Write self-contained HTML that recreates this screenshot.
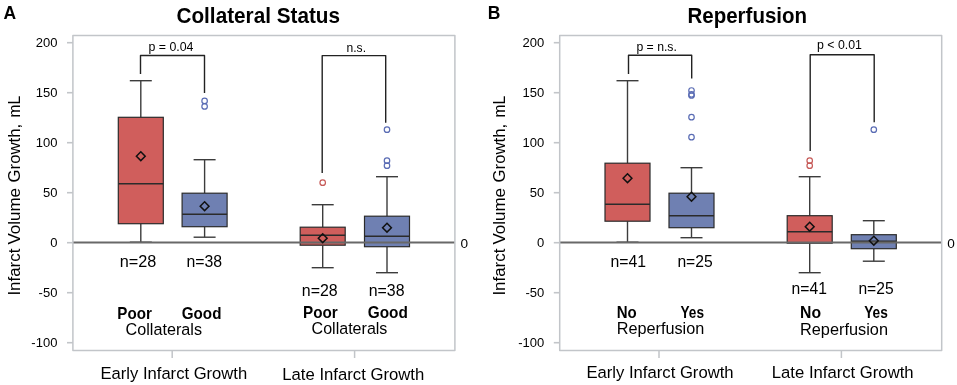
<!DOCTYPE html>
<html><head><meta charset="utf-8"><style>
html,body{margin:0;padding:0;background:#fff;}
svg{display:block;will-change:transform;}
text{font-family:"Liberation Sans", sans-serif;fill:#000;}
</style></head><body>
<svg width="957" height="385" viewBox="0 0 957 385">
<rect width="957" height="385" fill="#fff"/>
<line x1="140.8" y1="80.7" x2="140.8" y2="117.3" stroke="#3c3c3c" stroke-width="1.4"/>
<line x1="140.8" y1="223.7" x2="140.8" y2="242.2" stroke="#3c3c3c" stroke-width="1.4"/>
<line x1="129.8" y1="80.7" x2="151.8" y2="80.7" stroke="#3c3c3c" stroke-width="1.4"/>
<line x1="129.8" y1="242.2" x2="151.8" y2="242.2" stroke="#3c3c3c" stroke-width="1.4"/>
<rect x="118.3" y="117.3" width="45" height="106.4" fill="#d05e5c" stroke="#2b2b2b" stroke-width="1.2"/>
<line x1="118.3" y1="183.7" x2="163.3" y2="183.7" stroke="#2b2b2b" stroke-width="1.6"/>
<line x1="204.6" y1="159.7" x2="204.6" y2="193.2" stroke="#3c3c3c" stroke-width="1.4"/>
<line x1="204.6" y1="226.7" x2="204.6" y2="237.2" stroke="#3c3c3c" stroke-width="1.4"/>
<line x1="193.6" y1="159.7" x2="215.6" y2="159.7" stroke="#3c3c3c" stroke-width="1.4"/>
<line x1="193.6" y1="237.2" x2="215.6" y2="237.2" stroke="#3c3c3c" stroke-width="1.4"/>
<rect x="182.1" y="193.2" width="45" height="33.5" fill="#6f80b2" stroke="#2b2b2b" stroke-width="1.2"/>
<line x1="182.1" y1="214.2" x2="227.1" y2="214.2" stroke="#2b2b2b" stroke-width="1.6"/>
<line x1="322.7" y1="204.7" x2="322.7" y2="227.2" stroke="#3c3c3c" stroke-width="1.4"/>
<line x1="322.7" y1="245.2" x2="322.7" y2="267.7" stroke="#3c3c3c" stroke-width="1.4"/>
<line x1="311.7" y1="204.7" x2="333.7" y2="204.7" stroke="#3c3c3c" stroke-width="1.4"/>
<line x1="311.7" y1="267.7" x2="333.7" y2="267.7" stroke="#3c3c3c" stroke-width="1.4"/>
<rect x="300.2" y="227.2" width="45" height="18.0" fill="#d05e5c" stroke="#2b2b2b" stroke-width="1.2"/>
<line x1="300.2" y1="235.2" x2="345.2" y2="235.2" stroke="#2b2b2b" stroke-width="1.6"/>
<line x1="387" y1="176.7" x2="387" y2="216.2" stroke="#3c3c3c" stroke-width="1.4"/>
<line x1="387" y1="246.7" x2="387" y2="272.7" stroke="#3c3c3c" stroke-width="1.4"/>
<line x1="376.0" y1="176.7" x2="398.0" y2="176.7" stroke="#3c3c3c" stroke-width="1.4"/>
<line x1="376.0" y1="272.7" x2="398.0" y2="272.7" stroke="#3c3c3c" stroke-width="1.4"/>
<rect x="364.5" y="216.2" width="45" height="30.5" fill="#6f80b2" stroke="#2b2b2b" stroke-width="1.2"/>
<line x1="364.5" y1="236.2" x2="409.5" y2="236.2" stroke="#2b2b2b" stroke-width="1.6"/>
<line x1="72.9" y1="242.5" x2="454.9" y2="242.5" stroke="#686868" stroke-width="1.9"/>
<path d="M140.8 151.8L145.2 156.2L140.8 160.6L136.4 156.2Z" fill="none" stroke="#111" stroke-width="1.5"/>
<path d="M204.6 201.8L209.0 206.2L204.6 210.6L200.2 206.2Z" fill="none" stroke="#111" stroke-width="1.5"/>
<circle cx="204.6" cy="100.9" r="2.75" fill="none" stroke="#5a6cb4" stroke-width="1.2"/>
<circle cx="204.6" cy="106.4" r="2.75" fill="none" stroke="#5a6cb4" stroke-width="1.2"/>
<path d="M322.7 233.8L327.1 238.2L322.7 242.6L318.3 238.2Z" fill="none" stroke="#111" stroke-width="1.5"/>
<circle cx="322.7" cy="182.7" r="2.75" fill="none" stroke="#c65a58" stroke-width="1.2"/>
<path d="M387 223.3L391.4 227.7L387 232.1L382.6 227.7Z" fill="none" stroke="#111" stroke-width="1.5"/>
<circle cx="387" cy="129.7" r="2.75" fill="none" stroke="#5a6cb4" stroke-width="1.2"/>
<circle cx="387" cy="160.7" r="2.75" fill="none" stroke="#5a6cb4" stroke-width="1.2"/>
<circle cx="387" cy="165.7" r="2.75" fill="none" stroke="#5a6cb4" stroke-width="1.2"/>
<rect x="72.9" y="35.6" width="382.0" height="314.8" fill="none" stroke="#c2c5c9" stroke-width="1.5" stroke-linejoin="round"/>
<line x1="67" y1="42.7" x2="72.9" y2="42.7" stroke="#c2c5c9" stroke-width="1.6"/>
<text x="57.4" y="47.1" font-size="13" font-weight="normal" text-anchor="end">200</text>
<line x1="67" y1="92.7" x2="72.9" y2="92.7" stroke="#c2c5c9" stroke-width="1.6"/>
<text x="57.4" y="97.1" font-size="13" font-weight="normal" text-anchor="end">150</text>
<line x1="67" y1="142.7" x2="72.9" y2="142.7" stroke="#c2c5c9" stroke-width="1.6"/>
<text x="57.4" y="147.1" font-size="13" font-weight="normal" text-anchor="end">100</text>
<line x1="67" y1="192.7" x2="72.9" y2="192.7" stroke="#c2c5c9" stroke-width="1.6"/>
<text x="57.4" y="197.1" font-size="13" font-weight="normal" text-anchor="end">50</text>
<line x1="67" y1="242.7" x2="72.9" y2="242.7" stroke="#c2c5c9" stroke-width="1.6"/>
<text x="57.4" y="247.1" font-size="13" font-weight="normal" text-anchor="end">0</text>
<line x1="67" y1="292.7" x2="72.9" y2="292.7" stroke="#c2c5c9" stroke-width="1.6"/>
<text x="57.4" y="297.1" font-size="13" font-weight="normal" text-anchor="end">-50</text>
<line x1="67" y1="342.7" x2="72.9" y2="342.7" stroke="#c2c5c9" stroke-width="1.6"/>
<text x="57.4" y="347.1" font-size="13" font-weight="normal" text-anchor="end">-100</text>
<line x1="172.2" y1="350.4" x2="172.2" y2="358" stroke="#c2c5c9" stroke-width="1.5"/>
<line x1="354.6" y1="350.4" x2="354.6" y2="358" stroke="#c2c5c9" stroke-width="1.5"/>
<text x="460.5" y="247.7" font-size="13.6" font-weight="normal" text-anchor="start">0</text>
<path d="M140.5 74V55.5H204.5V93" fill="none" stroke="#222" stroke-width="1.4" stroke-linejoin="round"/>
<text x="148.5" y="51.3" font-size="13" font-weight="normal" text-anchor="start" textLength="45" lengthAdjust="spacingAndGlyphs">p = 0.04</text>
<path d="M322.2 173V55.6H385.7V122.8" fill="none" stroke="#222" stroke-width="1.4" stroke-linejoin="round"/>
<text x="346.5" y="51.6" font-size="13" font-weight="normal" text-anchor="start" textLength="19.5" lengthAdjust="spacingAndGlyphs">n.s.</text>
<text x="3.5" y="19" font-size="17.5" font-weight="bold" text-anchor="start">A</text>
<text x="176.5" y="23.4" font-size="21.5" font-weight="bold" text-anchor="start" textLength="163.5" lengthAdjust="spacingAndGlyphs">Collateral Status</text>
<text x="119.8" y="266.7" font-size="16.3" font-weight="normal" text-anchor="start" textLength="36.6" lengthAdjust="spacingAndGlyphs">n=28</text>
<text x="186.5" y="266.7" font-size="16.3" font-weight="normal" text-anchor="start" textLength="35.7" lengthAdjust="spacingAndGlyphs">n=38</text>
<text x="117.3" y="319.0" font-size="16.3" font-weight="bold" text-anchor="start" textLength="34.5" lengthAdjust="spacingAndGlyphs">Poor</text>
<text x="181.8" y="319.0" font-size="16.3" font-weight="bold" text-anchor="start" textLength="39.6" lengthAdjust="spacingAndGlyphs">Good</text>
<text x="125.6" y="335.0" font-size="16.3" font-weight="normal" text-anchor="start" textLength="76.4" lengthAdjust="spacingAndGlyphs">Collaterals</text>
<text x="301.8" y="295.7" font-size="16.3" font-weight="normal" text-anchor="start" textLength="35.9" lengthAdjust="spacingAndGlyphs">n=28</text>
<text x="368.7" y="295.7" font-size="16.3" font-weight="normal" text-anchor="start" textLength="35.8" lengthAdjust="spacingAndGlyphs">n=38</text>
<text x="303" y="317.9" font-size="16.3" font-weight="bold" text-anchor="start" textLength="34.7" lengthAdjust="spacingAndGlyphs">Poor</text>
<text x="367.7" y="317.9" font-size="16.3" font-weight="bold" text-anchor="start" textLength="40.1" lengthAdjust="spacingAndGlyphs">Good</text>
<text x="311.6" y="334.3" font-size="16.3" font-weight="normal" text-anchor="start" textLength="75.8" lengthAdjust="spacingAndGlyphs">Collaterals</text>
<text x="100.5" y="379.1" font-size="16.3" font-weight="normal" text-anchor="start" textLength="146.7" lengthAdjust="spacingAndGlyphs">Early Infarct Growth</text>
<text x="282.3" y="380.1" font-size="16.3" font-weight="normal" text-anchor="start" textLength="142" lengthAdjust="spacingAndGlyphs">Late Infarct Growth</text>
<line x1="627.5" y1="80.7" x2="627.5" y2="163.2" stroke="#3c3c3c" stroke-width="1.4"/>
<line x1="627.5" y1="221.2" x2="627.5" y2="242.2" stroke="#3c3c3c" stroke-width="1.4"/>
<line x1="616.5" y1="80.7" x2="638.5" y2="80.7" stroke="#3c3c3c" stroke-width="1.4"/>
<line x1="616.5" y1="242.2" x2="638.5" y2="242.2" stroke="#3c3c3c" stroke-width="1.4"/>
<rect x="605.0" y="163.2" width="45" height="58.0" fill="#d05e5c" stroke="#2b2b2b" stroke-width="1.2"/>
<line x1="605.0" y1="204.2" x2="650.0" y2="204.2" stroke="#2b2b2b" stroke-width="1.6"/>
<line x1="691.5" y1="167.7" x2="691.5" y2="193.2" stroke="#3c3c3c" stroke-width="1.4"/>
<line x1="691.5" y1="227.7" x2="691.5" y2="237.7" stroke="#3c3c3c" stroke-width="1.4"/>
<line x1="680.5" y1="167.7" x2="702.5" y2="167.7" stroke="#3c3c3c" stroke-width="1.4"/>
<line x1="680.5" y1="237.7" x2="702.5" y2="237.7" stroke="#3c3c3c" stroke-width="1.4"/>
<rect x="669.0" y="193.2" width="45" height="34.5" fill="#6f80b2" stroke="#2b2b2b" stroke-width="1.2"/>
<line x1="669.0" y1="215.7" x2="714.0" y2="215.7" stroke="#2b2b2b" stroke-width="1.6"/>
<line x1="809.7" y1="176.7" x2="809.7" y2="215.7" stroke="#3c3c3c" stroke-width="1.4"/>
<line x1="809.7" y1="243.2" x2="809.7" y2="272.7" stroke="#3c3c3c" stroke-width="1.4"/>
<line x1="798.7" y1="176.7" x2="820.7" y2="176.7" stroke="#3c3c3c" stroke-width="1.4"/>
<line x1="798.7" y1="272.7" x2="820.7" y2="272.7" stroke="#3c3c3c" stroke-width="1.4"/>
<rect x="787.2" y="215.7" width="45" height="27.5" fill="#d05e5c" stroke="#2b2b2b" stroke-width="1.2"/>
<line x1="787.2" y1="231.7" x2="832.2" y2="231.7" stroke="#2b2b2b" stroke-width="1.6"/>
<line x1="873.8" y1="220.7" x2="873.8" y2="234.7" stroke="#3c3c3c" stroke-width="1.4"/>
<line x1="873.8" y1="248.7" x2="873.8" y2="261.2" stroke="#3c3c3c" stroke-width="1.4"/>
<line x1="862.8" y1="220.7" x2="884.8" y2="220.7" stroke="#3c3c3c" stroke-width="1.4"/>
<line x1="862.8" y1="261.2" x2="884.8" y2="261.2" stroke="#3c3c3c" stroke-width="1.4"/>
<rect x="851.3" y="234.7" width="45" height="14.0" fill="#6f80b2" stroke="#2b2b2b" stroke-width="1.2"/>
<line x1="851.3" y1="241.2" x2="896.3" y2="241.2" stroke="#2b2b2b" stroke-width="1.6"/>
<line x1="559.7" y1="242.5" x2="941.7" y2="242.5" stroke="#686868" stroke-width="1.9"/>
<path d="M627.5 173.8L631.9 178.2L627.5 182.6L623.1 178.2Z" fill="none" stroke="#111" stroke-width="1.5"/>
<path d="M691.5 192.3L695.9 196.7L691.5 201.1L687.1 196.7Z" fill="none" stroke="#111" stroke-width="1.5"/>
<circle cx="691.5" cy="90.5" r="2.75" fill="none" stroke="#5a6cb4" stroke-width="1.2"/>
<circle cx="691.5" cy="94.4" r="2.75" fill="none" stroke="#5a6cb4" stroke-width="1.2"/>
<circle cx="691.5" cy="95.5" r="2.75" fill="none" stroke="#5a6cb4" stroke-width="1.2"/>
<circle cx="691.5" cy="117.2" r="2.75" fill="none" stroke="#5a6cb4" stroke-width="1.2"/>
<circle cx="691.5" cy="137.2" r="2.75" fill="none" stroke="#5a6cb4" stroke-width="1.2"/>
<path d="M809.7 222.3L814.1 226.7L809.7 231.1L805.3 226.7Z" fill="none" stroke="#111" stroke-width="1.5"/>
<circle cx="809.7" cy="160.7" r="2.75" fill="none" stroke="#c65a58" stroke-width="1.2"/>
<circle cx="809.7" cy="165.7" r="2.75" fill="none" stroke="#c65a58" stroke-width="1.2"/>
<path d="M873.8 236.3L878.2 240.7L873.8 245.1L869.4 240.7Z" fill="none" stroke="#111" stroke-width="1.5"/>
<circle cx="873.8" cy="129.7" r="2.75" fill="none" stroke="#5a6cb4" stroke-width="1.2"/>
<rect x="559.7" y="35.6" width="382.0" height="314.8" fill="none" stroke="#c2c5c9" stroke-width="1.5" stroke-linejoin="round"/>
<line x1="553.8" y1="42.7" x2="559.7" y2="42.7" stroke="#c2c5c9" stroke-width="1.6"/>
<text x="544.2" y="47.1" font-size="13" font-weight="normal" text-anchor="end">200</text>
<line x1="553.8" y1="92.7" x2="559.7" y2="92.7" stroke="#c2c5c9" stroke-width="1.6"/>
<text x="544.2" y="97.1" font-size="13" font-weight="normal" text-anchor="end">150</text>
<line x1="553.8" y1="142.7" x2="559.7" y2="142.7" stroke="#c2c5c9" stroke-width="1.6"/>
<text x="544.2" y="147.1" font-size="13" font-weight="normal" text-anchor="end">100</text>
<line x1="553.8" y1="192.7" x2="559.7" y2="192.7" stroke="#c2c5c9" stroke-width="1.6"/>
<text x="544.2" y="197.1" font-size="13" font-weight="normal" text-anchor="end">50</text>
<line x1="553.8" y1="242.7" x2="559.7" y2="242.7" stroke="#c2c5c9" stroke-width="1.6"/>
<text x="544.2" y="247.1" font-size="13" font-weight="normal" text-anchor="end">0</text>
<line x1="553.8" y1="292.7" x2="559.7" y2="292.7" stroke="#c2c5c9" stroke-width="1.6"/>
<text x="544.2" y="297.1" font-size="13" font-weight="normal" text-anchor="end">-50</text>
<line x1="553.8" y1="342.7" x2="559.7" y2="342.7" stroke="#c2c5c9" stroke-width="1.6"/>
<text x="544.2" y="347.1" font-size="13" font-weight="normal" text-anchor="end">-100</text>
<line x1="659.0" y1="350.4" x2="659.0" y2="358" stroke="#c2c5c9" stroke-width="1.5"/>
<line x1="841.4" y1="350.4" x2="841.4" y2="358" stroke="#c2c5c9" stroke-width="1.5"/>
<text x="947.3" y="247.7" font-size="13.6" font-weight="normal" text-anchor="start">0</text>
<path d="M628.5 74V55.3H691.7V78.5" fill="none" stroke="#222" stroke-width="1.4" stroke-linejoin="round"/>
<text x="636.4" y="50.6" font-size="13" font-weight="normal" text-anchor="start" textLength="40.5" lengthAdjust="spacingAndGlyphs">p = n.s.</text>
<path d="M810.2 150.9V54.7H874.2V122.2" fill="none" stroke="#222" stroke-width="1.4" stroke-linejoin="round"/>
<text x="817" y="49.4" font-size="13" font-weight="normal" text-anchor="start" textLength="45" lengthAdjust="spacingAndGlyphs">p &lt; 0.01</text>
<text x="487.8" y="19" font-size="17.5" font-weight="bold" text-anchor="start">B</text>
<text x="687.5" y="23.4" font-size="21.5" font-weight="bold" text-anchor="start" textLength="119.5" lengthAdjust="spacingAndGlyphs">Reperfusion</text>
<text x="610.4" y="266.8" font-size="16.3" font-weight="normal" text-anchor="start" textLength="35.6" lengthAdjust="spacingAndGlyphs">n=41</text>
<text x="677.4" y="266.8" font-size="16.3" font-weight="normal" text-anchor="start" textLength="35.3" lengthAdjust="spacingAndGlyphs">n=25</text>
<text x="616.7" y="318.0" font-size="16.3" font-weight="bold" text-anchor="start" textLength="20" lengthAdjust="spacingAndGlyphs">No</text>
<text x="680.5" y="318.0" font-size="16.3" font-weight="bold" text-anchor="start" textLength="23.5" lengthAdjust="spacingAndGlyphs">Yes</text>
<text x="616.7" y="333.9" font-size="16.3" font-weight="normal" text-anchor="start" textLength="87.5" lengthAdjust="spacingAndGlyphs">Reperfusion</text>
<text x="791.6" y="293.8" font-size="16.3" font-weight="normal" text-anchor="start" textLength="35.3" lengthAdjust="spacingAndGlyphs">n=41</text>
<text x="858.4" y="293.8" font-size="16.3" font-weight="normal" text-anchor="start" textLength="35.2" lengthAdjust="spacingAndGlyphs">n=25</text>
<text x="800" y="317.9" font-size="16.3" font-weight="bold" text-anchor="start" textLength="21" lengthAdjust="spacingAndGlyphs">No</text>
<text x="864.2" y="317.9" font-size="16.3" font-weight="bold" text-anchor="start" textLength="23.6" lengthAdjust="spacingAndGlyphs">Yes</text>
<text x="800" y="335.0" font-size="16.3" font-weight="normal" text-anchor="start" textLength="88" lengthAdjust="spacingAndGlyphs">Reperfusion</text>
<text x="586.4" y="377.9" font-size="16.3" font-weight="normal" text-anchor="start" textLength="147.2" lengthAdjust="spacingAndGlyphs">Early Infarct Growth</text>
<text x="771.8" y="378.1" font-size="16.3" font-weight="normal" text-anchor="start" textLength="141.8" lengthAdjust="spacingAndGlyphs">Late Infarct Growth</text>
<text transform="translate(19.9 295.6) rotate(-90)" x="0" y="0" font-size="15.8" textLength="47.0" lengthAdjust="spacingAndGlyphs">Infarct</text>
<text transform="translate(19.9 244.6) rotate(-90)" x="0" y="0" font-size="15.8" textLength="56.6" lengthAdjust="spacingAndGlyphs">Volume</text>
<text transform="translate(19.9 182.4) rotate(-90)" x="0" y="0" font-size="15.8" textLength="58.6" lengthAdjust="spacingAndGlyphs">Growth,</text>
<text transform="translate(19.9 117.4) rotate(-90)" x="0" y="0" font-size="15.8" textLength="21.6" lengthAdjust="spacingAndGlyphs">mL</text>
<text transform="translate(505.2 295.6) rotate(-90)" x="0" y="0" font-size="15.8" textLength="47.0" lengthAdjust="spacingAndGlyphs">Infarct</text>
<text transform="translate(505.2 244.6) rotate(-90)" x="0" y="0" font-size="15.8" textLength="56.6" lengthAdjust="spacingAndGlyphs">Volume</text>
<text transform="translate(505.2 182.4) rotate(-90)" x="0" y="0" font-size="15.8" textLength="58.6" lengthAdjust="spacingAndGlyphs">Growth,</text>
<text transform="translate(505.2 117.4) rotate(-90)" x="0" y="0" font-size="15.8" textLength="21.6" lengthAdjust="spacingAndGlyphs">mL</text>
</svg></body></html>
